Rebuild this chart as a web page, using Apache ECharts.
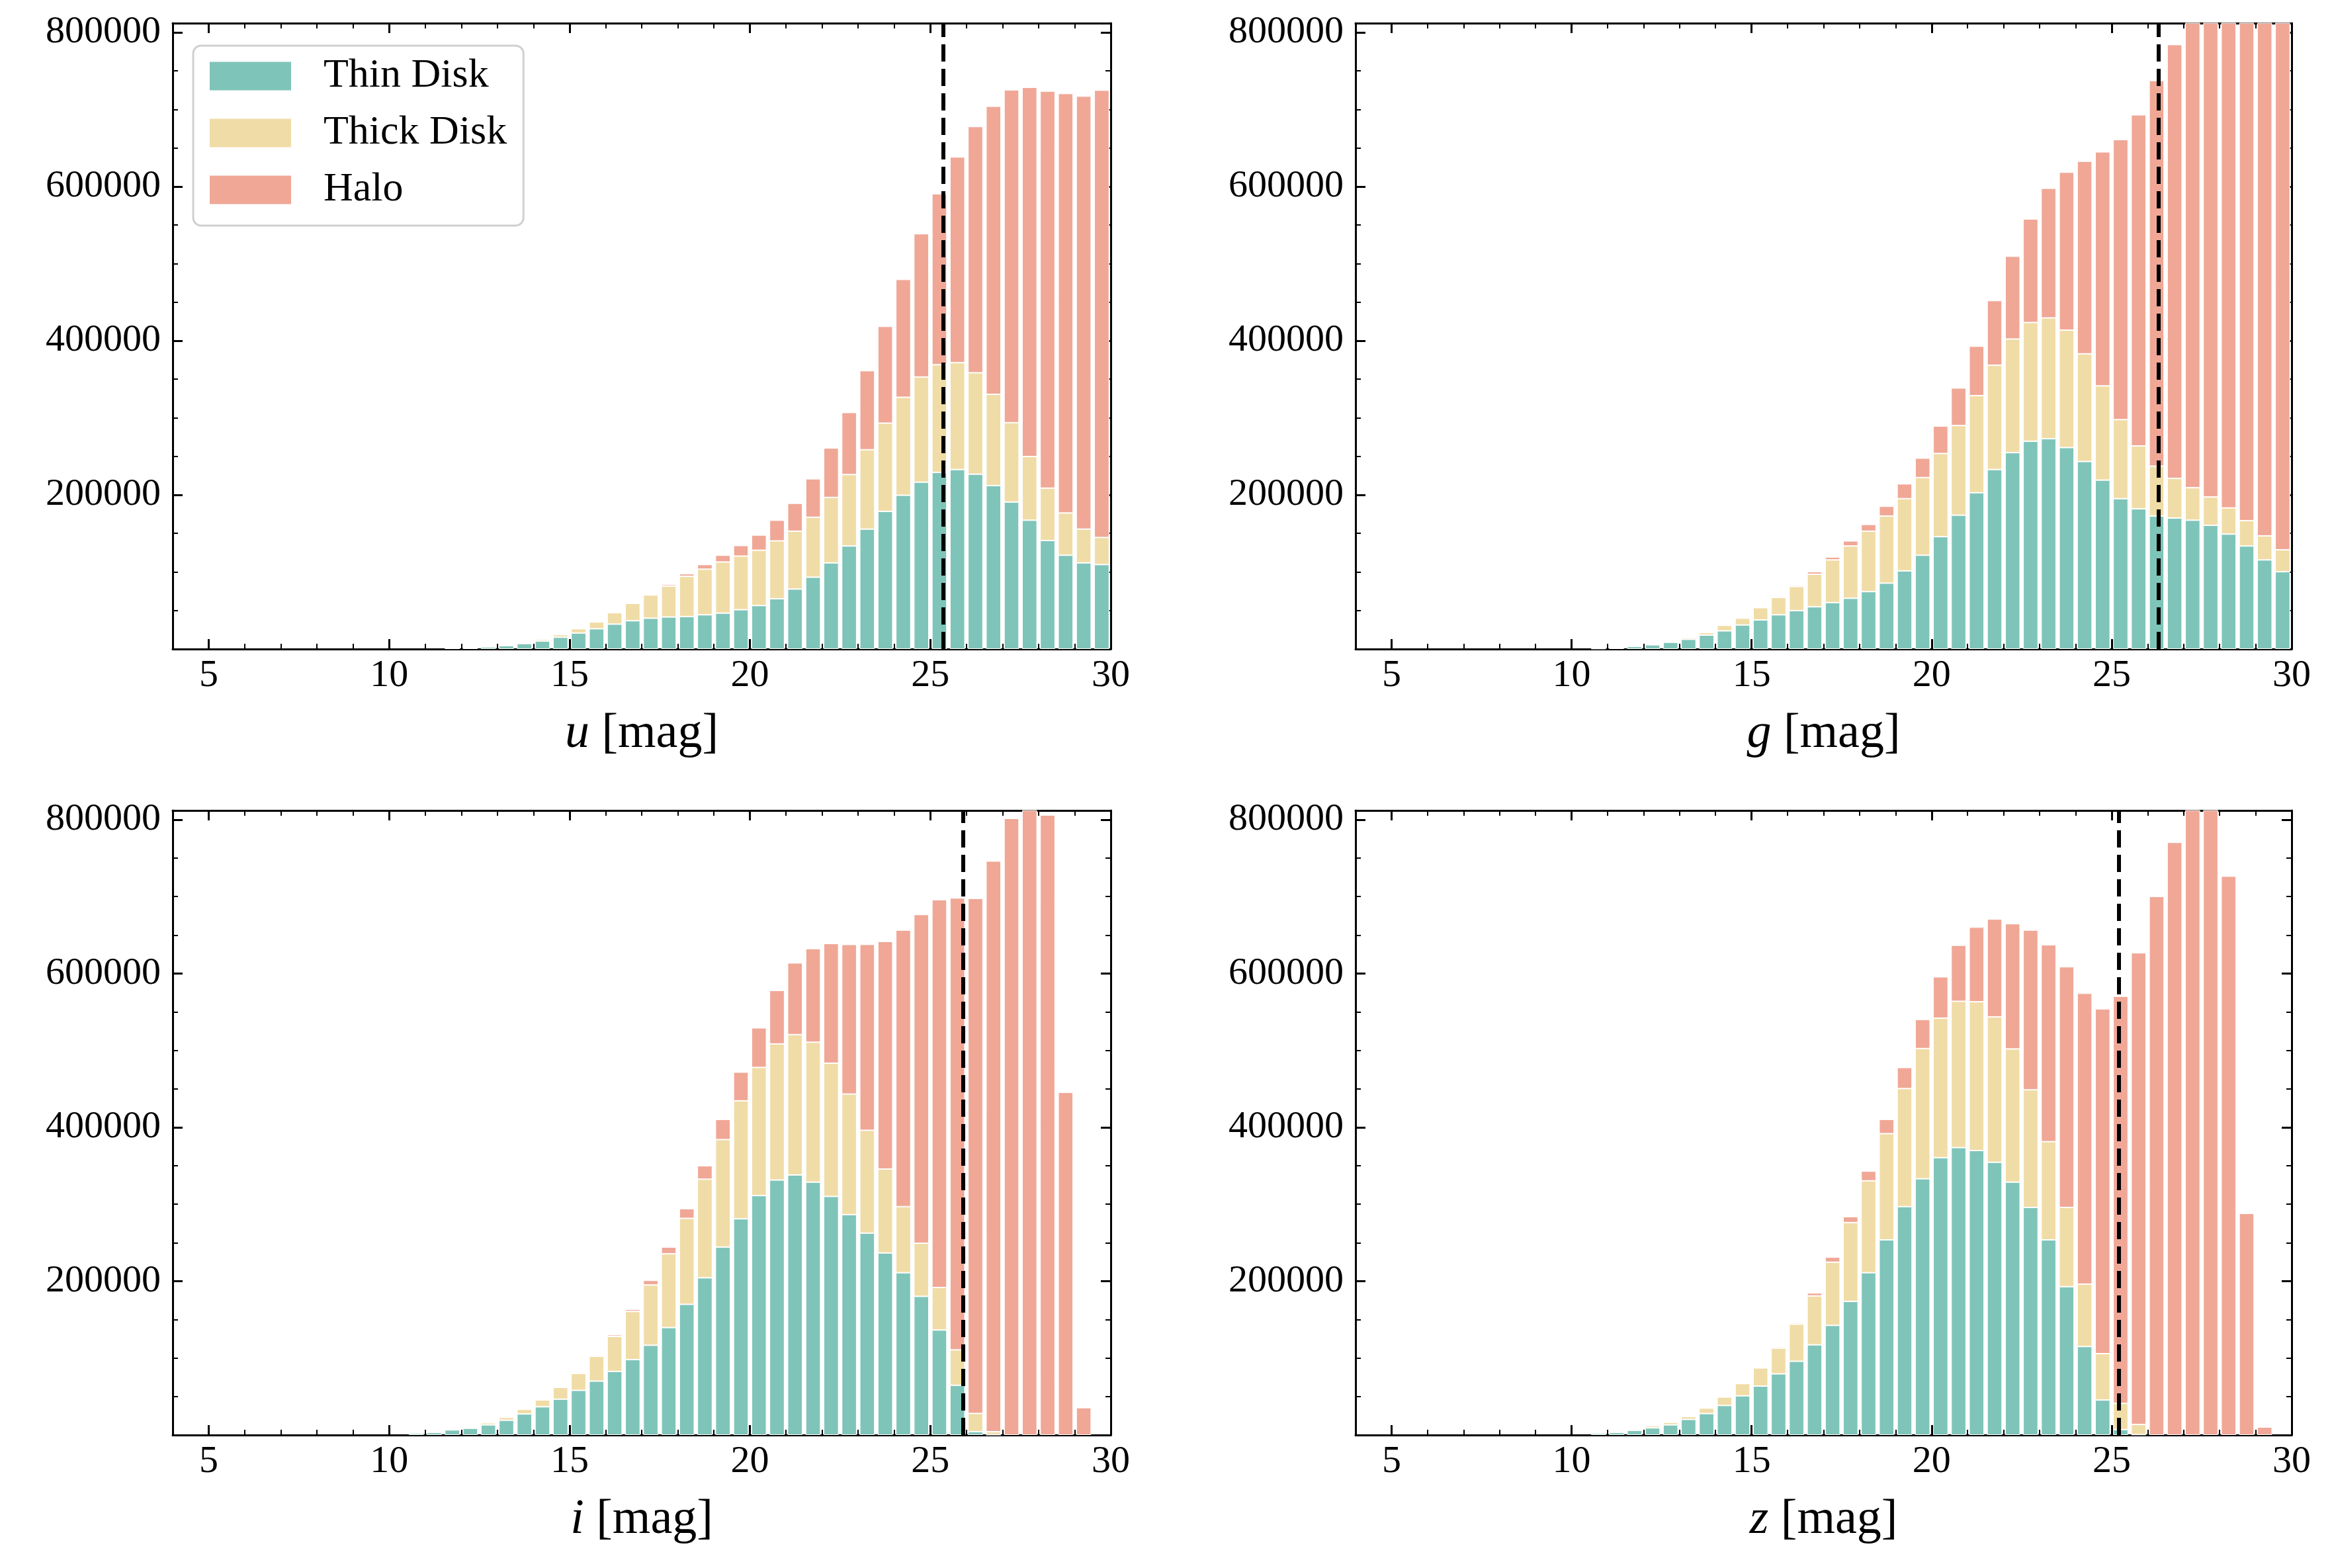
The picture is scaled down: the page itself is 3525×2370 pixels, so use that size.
<!DOCTYPE html>
<html><head><meta charset="utf-8">
<script src="https://cdn.jsdelivr.net/npm/echarts@6/dist/echarts.min.js"></script>
<style>html,body{margin:0;padding:0;background:#fff}#c{width:3525px;height:2370px}</style>
</head><body><div id="c"></div>
<script>
// ---- data (0.5 mag bins; values are counts per bin) ----
// empty bins from the left edge of the axis (4 mag) up to 10 mag
const emptyBinCenters = [4.25,4.75,5.25,5.75,6.25,6.75,7.25,7.75,8.25,8.75,9.25,9.75];
const binCenters = [10.25,10.75,11.25,11.75,12.25,12.75,13.25,13.75,14.25,14.75,
  15.25,15.75,16.25,16.75,17.25,17.75,18.25,18.75,19.25,19.75,
  20.25,20.75,21.25,21.75,22.25,22.75,23.25,23.75,24.25,24.75,
  25.25,25.75,26.25,26.75,27.25,27.75,28.25,28.75,29.25,29.75];

const seriesNames = ['Thin Disk', 'Thick Disk', 'Halo'];
const bandNames = ['u', 'g', 'i', 'z'];

const thinU = [0,0,0,800,1600,2700,4400,7100,10400,15300,
  20800,26300,32300,36700,40000,41600,42200,44400,46600,51000,
  56400,65200,77800,93200,111800,133700,155600,178600,199500,216500,
  229100,232900,226900,212100,190700,167100,140800,121700,111800,109600];
const thickU = [0,0,0,100,300,1100,1600,1600,2200,3300,
  5500,8800,14800,22500,30100,40000,52100,59200,66300,69600,
  71800,75100,75100,77800,84900,92600,103000,114500,127100,136500,
  139700,138600,131500,118400,103000,82700,68000,54800,43800,35100];
const haloU = [0,0,0,0,0,0,200,300,300,500,
  1100,1100,1100,1100,1100,2200,3300,6000,8800,13700,
  19700,26800,36200,49900,64100,80600,102500,125500,152900,185800,
  221900,266900,319500,373700,431800,479000,515100,544200,561700,580300];

const thinG = [0,500,1600,3300,5500,8800,12600,18100,23600,31200,
  37800,44400,49900,54800,60300,65800,74500,85500,101400,121700,
  145800,173700,202800,232900,254800,269600,272900,261400,243300,219200,
  195100,181900,172600,169900,167100,160600,149100,133700,115600,100300];
const thickG = [0,1100,500,1100,1000,1100,2200,3300,7100,8800,
  15900,22500,31200,42200,55300,67900,78400,87100,93700,100800,
  107900,116200,126000,135400,147400,154000,156700,152300,139700,122200,
  102500,81600,64700,51500,42200,36700,34000,32900,31200,28500];
const haloG = [0,0,0,0,0,0,0,300,1100,1100,
  1100,1600,1600,3300,3800,6600,8800,12600,19200,25200,
  35600,48800,64100,83800,107400,134300,168200,204900,249900,303600,
  363300,429600,500300,562800,650000,720000,790000,850000,900000,950000];

const thinI = [0,2200,3300,6600,8800,13200,19200,27400,36700,46600,
  58100,70100,82700,98100,116700,139700,169900,204400,244400,281100,
  311300,331500,338100,328800,310200,286600,262500,236700,211000,180300,
  136500,64700,4400,300,0,0,0,0,0,0];
const thickI = [0,1100,1600,1100,1600,2700,3800,6000,8800,15300,
  21900,32300,45500,62500,78400,95900,111800,128200,139700,153400,
  166600,177000,182500,181900,173200,156700,133700,109100,86000,69000,
  55300,46000,23600,4000,0,0,0,0,0,0];
const haloI = [0,0,0,0,0,0,500,1100,1100,1100,
  1600,1600,2200,2700,6000,8800,12600,17500,26300,37300,
  51500,69600,93200,121700,155600,194500,241700,295900,359500,427400,
  504200,587500,669700,742000,801700,835000,806100,445500,35600,0];

const thinZ = [0,2200,3300,6000,9300,13200,20300,27900,38400,51000,
  63600,79500,95900,117300,142500,173700,211000,253700,297000,333200,
  360600,373700,369900,354600,328800,295900,253700,192900,115100,45500,
  7100,500,0,0,0,0,0,0,0,0];
const thickZ = [0,1100,1600,1600,2700,3300,3800,7100,11000,15900,
  23600,33400,48200,63600,82200,102500,119500,138100,153400,169300,
  181400,190200,193400,189100,173200,152900,127700,103000,81100,60300,
  34000,13200,0,0,0,0,0,0,0,0];
const haloZ = [0,0,0,0,0,0,0,500,500,1100,
  1100,1600,1600,3800,6600,7700,12600,18600,27400,37800,
  53700,72900,97000,127100,162800,207700,255900,312900,378100,448300,
  529400,613200,700300,770500,835000,830000,726600,288200,10400,0];

const depthLimits = [25.35, 26.3, 25.9, 25.2];

const xMajorTicks = [5,10,15,20,25,30];
const xMinorTicks = [5,6,7,8,9,10,11,12,13,14,15,16,17,18,19,20,21,22,23,24,25,26,27,28,29,30];
const yMajorTicks = [200000,400000,600000,800000];
const yMinorTicks = [50000,100000,150000,200000,250000,300000,350000,400000,450000,500000,
  550000,600000,650000,700000,750000,800000];

// ---- layout / style ----
const panelData = [[thinU, thickU, haloU],[thinG, thickG, haloG],[thinI, thickI, haloI],[thinZ, thickZ, haloZ]];
const colors = ['#7fc4b9', '#f0dca6', '#f0a796'];
const grids = [
  {left:261, top:35, width:1418, height:946},
  {left:2049, top:35, width:1415, height:946},
  {left:261, top:1225, width:1418, height:944},
  {left:2049, top:1225, width:1415, height:944}
];
const FONT = 'Liberation Serif';
const XMIN = 4, XMAX = 30, YMIN = 0, YMAX = 812000;
const binCategories = emptyBinCenters.concat(binCenters).map(String);
const emptyPad = emptyBinCenters.map(() => '-');

const xAxes = [], yAxes = [], series = [];
grids.forEach((g, gi) => {
  const base = xAxes.length;
  const mkX = (pos, major, withLabel) => ({
    type:'value', gridIndex:gi, min:XMIN, max:XMAX, position:pos, offset:0,
    axisLine:{show:major, onZero:false, lineStyle:{color:'#000', width:3}},
    axisTick:{show:true, inside:true, length:major?15:8, customValues: major?xMajorTicks:xMinorTicks,
      lineStyle:{color:'#000', width:major?3:2}},
    axisLabel:{show:withLabel, customValues:xMajorTicks, margin:12, color:'#000',
      fontFamily:FONT, fontSize:58},
    splitLine:{show:false},
    name: withLabel ? '{it|' + bandNames[gi] + '} [mag]' : '',
    nameLocation:'middle', nameGap:92,
    nameTextStyle:{fontFamily:FONT, fontSize:74, color:'#000',
      rich:{it:{fontFamily:FONT, fontSize:74, fontStyle:'italic', color:'#000'}}}
  });
  xAxes.push(mkX('bottom', true, true), mkX('bottom', false, false), mkX('top', true, false), mkX('top', false, false));
  // hidden band axis for the histogram bins (same pixel span 4..30 mag)
  xAxes.push({type:'category', gridIndex:gi, position:'bottom', show:false, boundaryGap:true,
    data: binCategories, axisLine:{onZero:false}});
  const mkY = (pos, major, withLabel) => ({
    type:'value', gridIndex:gi, min:YMIN, max:YMAX, position:pos, offset:0,
    axisLine:{show:major, onZero:false, lineStyle:{color:'#000', width:3}},
    axisTick:{show:true, inside:true, length:major?15:8, customValues: major?yMajorTicks:yMinorTicks,
      lineStyle:{color:'#000', width:major?3:2}},
    axisLabel:{show:withLabel, customValues:yMajorTicks, margin:18, color:'#000',
      fontFamily:FONT, fontSize:58, formatter: v => String(v)},
    splitLine:{show:false}
  });
  const ybase = yAxes.length;
  yAxes.push(mkY('left', true, true), mkY('left', false, false), mkY('right', true, false), mkY('right', false, false));

  panelData[gi].forEach((vals, k) => {
    series.push({
      type:'bar', name:seriesNames[k], xAxisIndex:base+4, yAxisIndex:ybase,
      stack:'st'+gi, barWidth:'83%', clip:true,
      itemStyle:{color:colors[k], borderColor:'#ffffff', borderWidth:1},
      data: emptyPad.concat(vals.map(v => v > 0 ? v : '-'))
    });
  });
  // dashed limiting-magnitude line on the magnitude value axis
  series.push({
    type:'line', name:'limit', xAxisIndex:base, yAxisIndex:ybase, data:[], silent:true,
    markLine:{
      silent:true, symbol:['none','none'], label:{show:false}, animation:false,
      lineStyle:{color:'#000', type:[26,11], width:6},
      data:[{xAxis: depthLimits[gi]}]
    }
  });
});

const chart = echarts.init(document.getElementById('c'), null, {renderer:'canvas', width:3525, height:2370});
chart.setOption({
  animation:false,
  backgroundColor:'#ffffff',
  grid: grids.map(g => Object.assign({show:false, containLabel:false, outerBoundsMode:'none'}, g)),
  xAxis: xAxes,
  yAxis: yAxes,
  legend: {
    show:true, orient:'vertical', left:292, top:69,
    data:seriesNames, icon:'rect', itemWidth:123, itemHeight:43, itemGap:14,
    padding:[10,25,18,25], borderColor:'#d0d0d0', borderWidth:3, borderRadius:12,
    backgroundColor:'rgba(255,255,255,0.8)', selectedMode:false,
    itemStyle:{borderWidth:0},
    textStyle:{fontFamily:FONT, fontSize:62, color:'#000', lineHeight:72, padding:[0,0,0,44]}
  },
  series: series
});
</script>
</body></html>
